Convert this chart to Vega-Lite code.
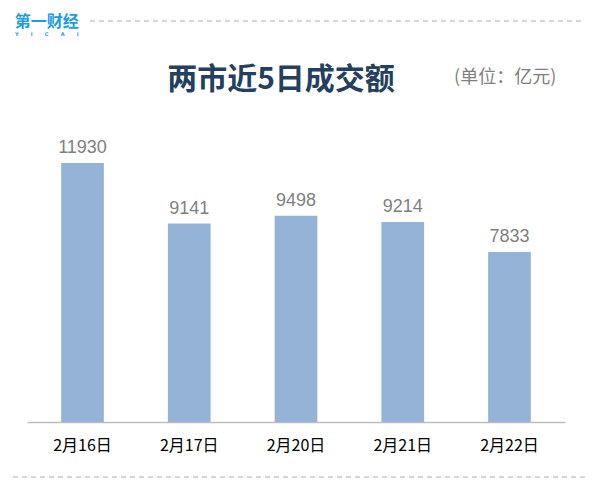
{
  "$schema": "https://vega.github.io/schema/vega-lite/v6.json",
  "width": 538,
  "height": 304,
  "autosize": {"type": "none"},
  "padding": {"left": 27, "top": 118, "right": 34, "bottom": 78},
  "background": "white",
  "config": {"view": {"stroke": null}},
  "datasets": {
    "bars": [
      {"date": "2月16日", "value": 11930},
      {"date": "2月17日", "value": 9141},
      {"date": "2月20日", "value": 9498},
      {"date": "2月21日", "value": 9214},
      {"date": "2月22日", "value": 7833}
    ],
    "lines": [
      {"pos": 11.7, "pos2": 103.7, "level": 18467},
      {"pos": -2.6, "pos2": 103.7, "level": -2533}
    ],
    "texts": [
      {"date": "2月20日", "level": 15753, "label": "两市近5日成交额", "kind": "title"},
      {"date": "2月22日", "level": 15845, "label": "(单位：亿元)", "kind": "unit"},
      {"date": "2月16日", "level": 18420, "label": "第一财经", "kind": "logo"},
      {"date": "2月16日", "level": 17870, "label": "Y\u00a0\u00a0\u00a0\u00a0\u00a0\u00a0\u00a0I\u00a0\u00a0\u00a0\u00a0\u00a0\u00a0\u00a0C\u00a0\u00a0\u00a0\u00a0\u00a0\u00a0\u00a0A\u00a0\u00a0\u00a0\u00a0\u00a0\u00a0\u00a0I", "kind": "yicai"}
    ]
  },
  "resolve": {"scale": {"x": "independent"}, "axis": {"x": "independent"}},
  "layer": [
    {
      "data": {"name": "bars"},
      "layer": [
        {
          "mark": {"type": "bar", "color": "#95b3d7"},
          "encoding": {
            "x": {
              "field": "date", "type": "nominal", "sort": null,
              "scale": {"paddingInner": 0.6, "paddingOuter": 0.32},
              "axis": {
                "title": null, "ticks": false, "labelAngle": 0,
                "labelFont": "Noto Sans CJK SC", "labelFontSize": 16, "labelColor": "#000000",
                "labelPadding": 15, "domainColor": "#bfbfbf", "domainWidth": 1.5
              }
            },
            "y": {
              "field": "value", "type": "quantitative",
              "scale": {"domain": [0, 14000], "nice": false, "zero": true},
              "axis": null
            }
          }
        },
        {
          "mark": {"type": "text", "font": "Liberation Sans", "fontSize": 18, "color": "#7f7f7f", "baseline": "alphabetic", "dy": -10},
          "encoding": {
            "x": {"field": "date", "type": "nominal", "sort": null},
            "y": {"field": "value", "type": "quantitative"},
            "text": {"field": "value", "type": "quantitative"}
          }
        }
      ]
    },
    {
      "data": {"name": "texts"},
      "transform": [{"filter": "datum.kind === 'title'"}],
      "mark": {"type": "text", "font": "Noto Sans CJK SC", "fontSize": 30, "fontWeight": "bold", "color": "#243f60", "baseline": "middle", "dx": -15},
      "encoding": {
        "x": {"field": "date", "type": "nominal", "scale": {"domain": ["2月16日", "2月17日", "2月20日", "2月21日", "2月22日"], "paddingInner": 0.6, "paddingOuter": 0.32}, "axis": null},
        "y": {"field": "level", "type": "quantitative"},
        "text": {"field": "label"}
      }
    },
    {
      "data": {"name": "texts"},
      "transform": [{"filter": "datum.kind === 'unit'"}],
      "mark": {"type": "text", "font": "Noto Sans CJK SC", "fontSize": 18, "color": "#7f7f7f", "baseline": "middle", "dx": -6},
      "encoding": {
        "x": {"field": "date", "type": "nominal", "scale": {"domain": ["2月16日", "2月17日", "2月20日", "2月21日", "2月22日"], "paddingInner": 0.6, "paddingOuter": 0.32}, "axis": null},
        "y": {"field": "level", "type": "quantitative"},
        "text": {"field": "label"}
      }
    },
    {
      "data": {"name": "texts"},
      "transform": [{"filter": "datum.kind === 'logo'"}],
      "mark": {"type": "text", "font": "Noto Sans CJK SC", "fontSize": 16, "fontWeight": "bold", "color": "#1b9ce2", "baseline": "middle", "dx": -34},
      "encoding": {
        "x": {"field": "date", "type": "nominal", "scale": {"domain": ["2月16日", "2月17日", "2月20日", "2月21日", "2月22日"], "paddingInner": 0.6, "paddingOuter": 0.32}, "axis": null},
        "y": {"field": "level", "type": "quantitative"},
        "text": {"field": "label"}
      }
    },
    {
      "data": {"name": "texts"},
      "transform": [{"filter": "datum.kind === 'yicai'"}],
      "mark": {"type": "text", "font": "DejaVu Sans", "fontSize": 5, "fontWeight": "bold", "color": "#1b9ce2", "baseline": "middle", "dx": -34},
      "encoding": {
        "x": {"field": "date", "type": "nominal", "scale": {"domain": ["2月16日", "2月17日", "2月20日", "2月21日", "2月22日"], "paddingInner": 0.6, "paddingOuter": 0.32}, "axis": null},
        "y": {"field": "level", "type": "quantitative"},
        "text": {"field": "label"}
      }
    },
    {
      "data": {"name": "lines"},
      "mark": {"type": "rule", "color": "#c8c8c8", "strokeWidth": 1.5, "strokeDash": [5, 4]},
      "encoding": {
        "x": {"field": "pos", "type": "quantitative", "scale": {"domain": [0, 100], "nice": false, "zero": false}, "axis": null},
        "x2": {"field": "pos2"},
        "y": {"field": "level", "type": "quantitative"}
      }
    }
  ]
}
